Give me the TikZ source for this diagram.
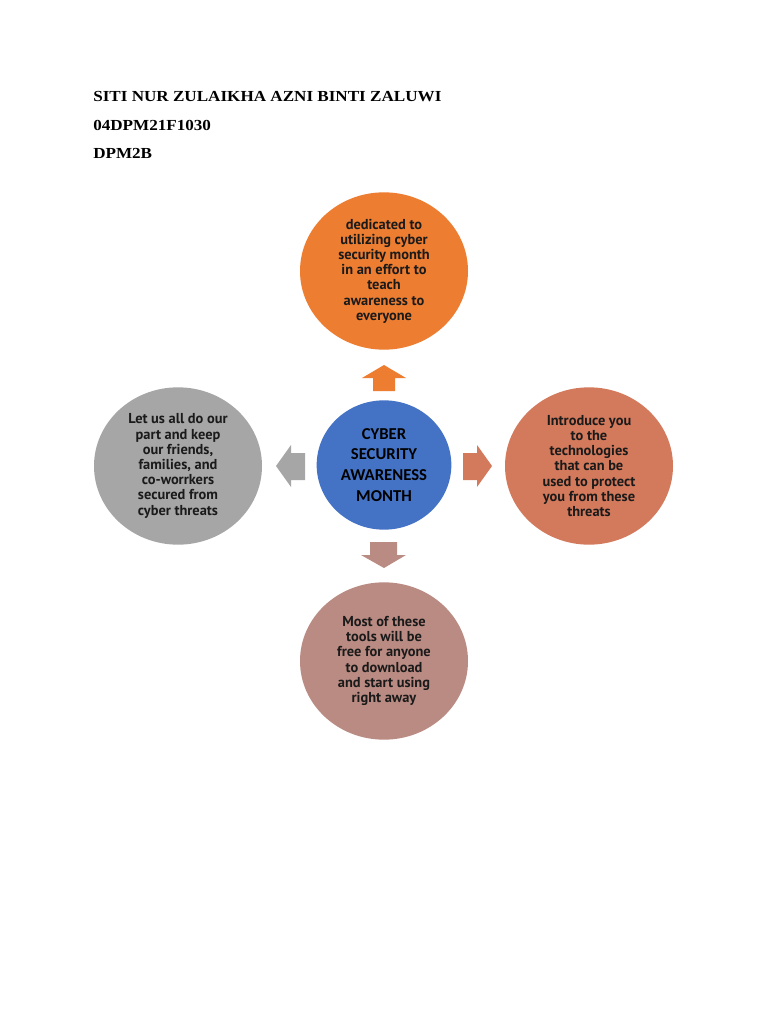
\documentclass[tikz,border=0pt]{standalone}
\usepackage{fontspec}
\setmainfont{Liberation Serif}
\newfontfamily\bodyfont{PT Sans}
\newfontfamily\titlefont{Carlito}
\usetikzlibrary{shapes.geometric}
\definecolor{corange}{HTML}{ED7D31}
\definecolor{cblue}{HTML}{4472C4}
\definecolor{cgrey}{HTML}{A6A6A6}
\definecolor{ccoral}{HTML}{D47A5C}
\definecolor{crose}{HTML}{BA8B82}
\definecolor{ctext}{HTML}{1A1A1A}
\newcommand{\hwide}[1]{\scalebox{1.115}[1]{#1}}
\tikzset{
  header/.style={anchor=base west, inner sep=0pt, font=\fontsize{11.5pt}{13pt}\selectfont\bfseries, text=black},
  bubble/.style={ellipse, inner sep=0pt, align=center, text=ctext,
    font=\bodyfont\bfseries\fontsize{10.8pt}{11.4pt}\selectfont},
  hub/.style={ellipse, inner sep=0pt, align=center, text=black,
    font=\titlefont\bfseries\fontsize{12.5pt}{15.7pt}\selectfont}
}
\begin{document}
\begin{tikzpicture}[x=0.75pt,y=-0.75pt]
\useasboundingbox (0,0) rectangle (768,1024);
\fill[white] (0,0) rectangle (768,1024);
% header
\node[header] (h1) at (93,101) {\hwide{SITI NUR ZULAIKHA AZNI BINTI ZALUWI}};
\node[header] (h2) at (93,130) {\hwide{04DPM21F1030}};
\node[header] (h3) at (93,158) {\hwide{DPM2B}};
% bubbles
\node[bubble, fill=corange, minimum width=126pt, minimum height=118pt] (top) at (384,271)
  {dedicated to\\utilizing cyber\\security month\\in an effort to\\teach\\awareness to\\everyone};
\node[hub, fill=cblue, minimum width=101pt, minimum height=97pt] (hub) at (384,465)
  {CYBER\\SECURITY\\AWARENESS\\MONTH};
\node[bubble, fill=cgrey, minimum width=126pt, minimum height=118pt] (left) at (178,466)
  {Let us all do our\\part and keep\\our friends,\\families, and\\co-worrkers\\secured from\\cyber threats};
\node[bubble, fill=ccoral, minimum width=126pt, minimum height=118pt] (right) at (589,466)
  {Introduce you\\to the\\technologies\\that can be\\used to protect\\you from these\\threats};
\node[bubble, fill=crose, minimum width=126pt, minimum height=118pt] (bottom) at (384,661)
  {Most of these\\tools will be\\free for anyone\\to download\\and start using\\right away};
% block arrows
\fill[corange] (384,365) -- (406,378) -- (395,378) -- (395,391) -- (373,391) -- (373,378) -- (362,378) -- cycle;
\fill[crose] (384,568) -- (406,555) -- (397,555) -- (397,542) -- (370,542) -- (370,555) -- (361,555) -- cycle;
\fill[ccoral] (492,466) -- (477,445) -- (477,453) -- (463,453) -- (463,480) -- (477,480) -- (477,487) -- cycle;
\fill[cgrey] (276,466) -- (291,445) -- (291,453) -- (305,453) -- (305,480) -- (291,480) -- (291,487) -- cycle;
\end{tikzpicture}
\end{document}
